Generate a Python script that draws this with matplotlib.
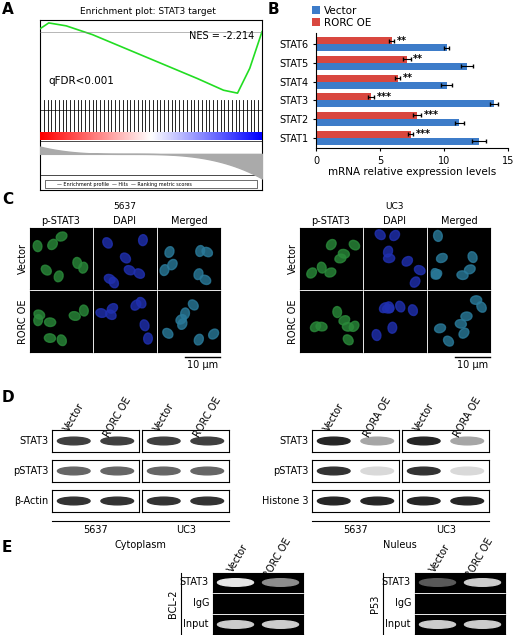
import matplotlib
matplotlib.use("Agg")
import matplotlib.pyplot as plt
import numpy as np
from matplotlib.patches import Rectangle, Ellipse

genes = ["STAT1", "STAT2", "STAT3", "STAT4", "STAT5", "STAT6"]
vector = [12.7, 11.2, 13.9, 10.2, 11.8, 10.2]
vector_err = [0.55, 0.35, 0.3, 0.45, 0.45, 0.2]
rorc = [7.4, 7.9, 4.3, 6.4, 7.1, 5.9]
rorc_err = [0.2, 0.3, 0.25, 0.2, 0.3, 0.2]
stars = ["***", "***", "***", "**", "**", "**"]
gsea_rank = [0, 500, 1500, 3000, 5000, 7000, 9000, 10500, 11300, 12000, 12700]
gsea_es = [0.02, 0.06, 0.04, -0.02, -0.12, -0.22, -0.32, -0.40, -0.42, -0.25, 0.0]

W, H = 520, 635
fig = plt.figure(figsize=(W/100, H/100), dpi=100)

def ax_px(x0, y0, x1, y1):
    return fig.add_axes([x0/W, 1-y1/H, (x1-x0)/W, (y1-y0)/H])

def lab(x, y, s, size=11):
    fig.text(x/W, 1-y/H, s, fontsize=size, fontweight="bold", va="center", ha="left")

def t(x, y, s, size=6.5, rot=0, ha="center", color="black"):
    fig.text(x/W, 1-y/H, s, fontsize=size, rotation=rot, ha=ha, va="center", color=color)

# Panel A
lab(2, 10, "A")
t(148, 12, "Enrichment plot: STAT3 target", 6.5)
a = ax_px(40, 20, 262, 190)
a.set_xticks([]); a.set_yticks([])
a.set_xlim(0, 12700); a.set_ylim(0, 1)
a.axhline(0.47, color="k", lw=0.5)
a.axhline(0.29, color="k", lw=0.5)
a.axhline(0.09, color="k", lw=0.5)
a2 = ax_px(40, 20, 262, 99)
a2.plot(gsea_rank, gsea_es, color="#22dd22", lw=1.2)
a2.set_xlim(0, 12700); a2.set_ylim(-0.46, 0.08)
a2.axhline(0, color="gray", lw=0.4)
a2.axis("off")
a2.text(8500, -0.05, "NES = -2.214", fontsize=7)
a2.text(500, -0.36, "qFDR<0.001", fontsize=7.5)
a3 = ax_px(40, 100, 262, 132)
rng_pos = np.linspace(0, 12700, 60)
for xx in rng_pos:
    a3.axvline(xx, color="k", lw=0.6)
a3.axis("off"); a3.set_xlim(0, 12700)
a4 = ax_px(40, 132, 262, 140)
a4.imshow(np.linspace(0, 1, 100)[None, :], cmap="bwr_r", aspect="auto")
a4.axis("off")
a5 = ax_px(40, 145, 262, 180)
a5.fill_between(np.linspace(0, 12700, 50), np.linspace(0.6, -0.9, 50)**3, color="#aaaaaa")
a5.set_xlim(0, 12700); a5.axis("off")
a.add_patch(Rectangle((300, 0.01), 12100, 0.05, fill=False, lw=0.4))
a.text(1000, 0.035, "— Enrichment profile  — Hits  — Ranking metric scores", fontsize=3.5, va="center")

# Panel B
lab(268, 10, "B")
b = ax_px(316, 33, 508, 148)
y = np.arange(len(genes))
h = 0.38
b.barh(y - h/2, vector, h, xerr=vector_err, color="#3d7cc9", label="Vector",
       error_kw=dict(lw=0.8, capsize=1.5, ecolor="k"))
b.barh(y + h/2, rorc, h, xerr=rorc_err, color="#d9473f", label="RORC OE",
       error_kw=dict(lw=0.8, capsize=1.5, ecolor="k"))
for yi, v, e, s in zip(y, rorc, rorc_err, stars):
    b.text(v + e + 0.2, yi + h/2, s, fontsize=7, va="center", fontweight="bold")
b.set_yticks(y); b.set_yticklabels(genes, fontsize=8)
b.set_xlim(0, 15); b.set_xticks([0, 5, 10, 15])
b.set_ylim(-0.55, 5.6)
b.tick_params(labelsize=7, length=2)
b.set_xlabel("mRNA relative expression levels", fontsize=7.5, labelpad=1)
for s in ["top", "right"]:
    b.spines[s].set_visible(False)
b.legend(loc="lower left", bbox_to_anchor=(-0.05, 1.0), fontsize=7.5, frameon=False,
         handlelength=0.8, handleheight=0.8, borderpad=0, labelspacing=0.2, handletextpad=0.4)

# Panel C
lab(2, 200, "C")
rng = np.random.default_rng(1)
def cells(ax, color, n=7):
    ax.set_facecolor("black"); ax.set_xticks([]); ax.set_yticks([])
    ax.set_xlim(0, 1); ax.set_ylim(0, 1)
    for _ in range(n):
        ax.add_patch(Ellipse((rng.uniform(.1, .9), rng.uniform(.1, .9)), .18, .14,
                             angle=rng.uniform(0, 180), color=color, alpha=.8))
for gx, title in [(30, "5637"), (300, "UC3")]:
    t(gx + 95, 207, title, 6.5)
    for ci, ct in enumerate(["p-STAT3", "DAPI", "Merged"]):
        x0 = gx + ci * 64
        t(x0 + 31, 221, ct, 7)
        for ri in range(2):
            ax = ax_px(x0, 228 + ri * 63, x0 + 62, 289 + ri * 63)
            col = ["#2a8a3a", "#2030b0", "#2a7a9a"][ci]
            cells(ax, col)
    t(gx - 7, 259, "Vector", 7, rot=90)
    t(gx - 7, 322, "RORC OE", 7, rot=90)
    fig.lines.append(plt.Line2D([(gx+155)/W, (gx+190)/W], [1-357/H]*2, color="k", lw=1, transform=fig.transFigure))
    t(gx + 173, 365, "10 µm", 7)

# Panel D
lab(2, 398, "D")
def blot(ax, intens):
    ax.set_xticks([]); ax.set_yticks([]); ax.set_xlim(0, 2); ax.set_ylim(0, 1)
    for i, v in enumerate(intens):
        ax.add_patch(Ellipse((i + 0.5, 0.5), 0.75, 0.35, color=str(1 - v)))
left = {"STAT3": [0.75, 0.75], "pSTAT3": [0.6, 0.6], "β-Actin": [0.8, 0.8]}
right = {"STAT3": [0.85, 0.35], "pSTAT3": [0.8, 0.15], "Histone 3": [0.85, 0.85]}
for gx, rows, names, region in [(52, left, ["5637", "UC3"], "Cytoplasm"), (312, right, ["5637", "UC3"], "Nuleus")]:
    col_labels = ["Vector", "RORC OE"] if region == "Cytoplasm" else ["Vector", "RORA OE"]
    for k in range(2):
        x0 = gx + k * 90
        for j, cl in enumerate(col_labels):
            t(x0 + 22 + j * 44, 417, cl, 7, rot=60)
        for r, (nm, iv) in enumerate(rows.items()):
            ax = ax_px(x0, 430 + r * 30, x0 + 87, 452 + r * 30)
            blot(ax, iv)
        t(x0 + 44, 530, names[k], 7)
    for r, nm in enumerate(rows):
        t(gx - 4, 441 + r * 30, nm, 7, ha="right")
    fig.lines.append(plt.Line2D([gx/W, (gx+177)/W], [1-521/H]*2, color="k", lw=0.8, transform=fig.transFigure))
    t(gx + 88, 545, region, 7)

# Panel E
lab(2, 548, "E")
for gx, gene, iv in [(213, "BCL-2", [0.9, 0.55]), (415, "P53", [0.35, 0.8])]:
    cl = ["Vector", "RORC OE"]
    for j, c in enumerate(cl):
        t(gx + 25 + j * 40, 558, c, 7, rot=60)
    for r, nm in enumerate(["STAT3", "IgG", "Input"]):
        ax = ax_px(gx, 573 + r * 21, gx + 90, 592 + r * 21)
        ax.set_facecolor("black"); ax.set_xticks([]); ax.set_yticks([])
        ax.set_xlim(0, 2); ax.set_ylim(0, 1)
        vals = iv if r == 0 else ([0, 0] if r == 1 else [0.8, 0.8])
        for i, v in enumerate(vals):
            ax.add_patch(Ellipse((i + 0.5, 0.5), 0.8, 0.4, color=str(v)))
        t(gx - 4, 582 + r * 21, nm, 7, ha="right")
    t(gx - 40, 604, gene, 7, rot=90)
    fig.lines.append(plt.Line2D([(gx-32)/W]*2, [1-573/H, 1-634/H], color="k", lw=0.8, transform=fig.transFigure))

fig.savefig("out.png", dpi=100)
